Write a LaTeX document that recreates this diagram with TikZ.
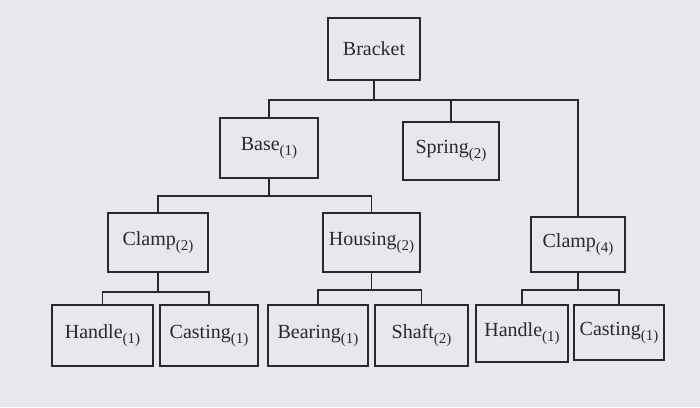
\documentclass[tikz,border=0pt]{standalone}
\usepackage{fontspec}
\setmainfont{Liberation Serif}
\definecolor{bg}{RGB}{232,232,236}
\definecolor{ink}{RGB}{40,40,45}
\newcommand{\sbs}[1]{{\fontsize{15}{15}\selectfont\raisebox{-5pt}{(#1)}}}
\begin{document}
\begin{tikzpicture}[x=1pt,y=-1pt,
  box/.style={draw=ink,line width=1.4pt,inner sep=0pt,text=ink,font=\fontsize{20}{20}\selectfont},
  ln/.style={draw=ink,line width=1.4pt}]
\fill[bg] (0,0) rectangle (700,407);
\useasboundingbox (0,0) rectangle (700,407);
\newcommand{\bx}[6]{\node[box,minimum width=#4-#2,minimum height=#5-#3] (#1) at ({(#2+#4)/2},{(#3+#5)/2}) {#6};}
\bx{bracket}{328}{18}{420}{80}{Bracket}
\bx{base}{220}{118}{318}{178}{Base\sbs{1}}
\bx{spring}{403}{122}{499}{180}{Spring\sbs{2}}
\bx{clampA}{108}{213}{208}{272}{Clamp\sbs{2}}
\bx{housing}{323}{213}{420}{272}{Housing\sbs{2}}
\bx{clampB}{531}{217}{625}{272}{Clamp\sbs{4}}
\bx{handleA}{52}{305}{153}{366}{Handle\sbs{1}}
\bx{castingA}{160}{305}{258}{366}{Casting\sbs{1}}
\bx{bearing}{268}{305}{368}{366}{Bearing\sbs{1}}
\bx{shaft}{375}{305}{468}{366}{Shaft\sbs{2}}
\bx{handleB}{476}{305}{568}{362}{Handle\sbs{1}}
\bx{castingB}{574}{305}{664}{360}{Casting\sbs{1}}
\coordinate (j1) at (bracket.south |- 0,100);
\draw[ln] (bracket.south) -- (j1);
\draw[ln] (base.north) |- (j1) -| (clampB.north);
\draw[ln] (spring.north) -- (spring.north |- j1);
\coordinate (j2) at (base.south |- 0,196);
\draw[ln] (base.south) -- (j2);
\draw[ln] (clampA.north) |- (j2) -| (housing.north);
\coordinate (j3) at (clampA.south |- 0,292);
\draw[ln] (clampA.south) -- (j3);
\draw[ln] (handleA.north) |- (j3) -| (castingA.north);
\coordinate (j4) at (housing.south |- 0,290);
\draw[ln] (housing.south) -- (j4);
\draw[ln] (bearing.north) |- (j4) -| (shaft.north);
\coordinate (j5) at (clampB.south |- 0,290);
\draw[ln] (clampB.south) -- (j5);
\draw[ln] (handleB.north) |- (j5) -| (castingB.north);
\end{tikzpicture}
\end{document}
